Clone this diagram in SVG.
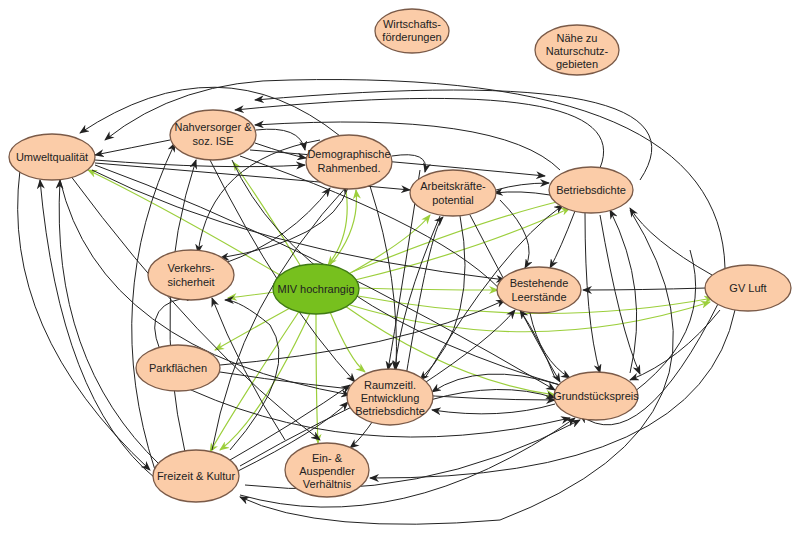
<svg xmlns="http://www.w3.org/2000/svg" width="800" height="538" viewBox="0 0 800 538">
<defs>
<marker id="ab" markerWidth="10" markerHeight="8" refX="9" refY="4" orient="auto" markerUnits="userSpaceOnUse"><path d="M0,0 L10,4 L0,8 L3,4 Z" fill="#222"/></marker>
<marker id="ag" markerWidth="10" markerHeight="8" refX="9" refY="4" orient="auto" markerUnits="userSpaceOnUse"><path d="M0,0 L10,4 L0,8 L3,4 Z" fill="#9ccf3c"/></marker>
</defs>
<style>
.n ellipse{fill:#fbcca8;stroke:#7a5a48;stroke-width:1.3}
.n text{font-family:"Liberation Sans",Arial,sans-serif;font-size:11px;fill:#222;text-anchor:middle}
#miv ellipse{fill:#77c01e;stroke:#3f7a14}
.b path{fill:none;stroke:#222;stroke-width:1;marker-end:url(#ab)}
.g path{fill:none;stroke:#9ccf3c;stroke-width:1.2;marker-end:url(#ag)}
</style>
<rect width="800" height="538" fill="#fff"/>
<g id="connectors">
<g class="g">
<path d="M285,278 Q170,210 88,170"/>
<path d="M300,265 Q260,200 233,162"/>
<path d="M330,265 Q360,230 356,190"/>
<path d="M346,190 Q352,235 328,265"/>
<path d="M345,276 Q410,240 430,215"/>
<path d="M352,272 Q480,220 565,200"/>
<path d="M355,280 Q480,250 570,208"/>
<path d="M358,288 Q430,290 498,290"/>
<path d="M358,296 Q540,330 713,298"/>
<path d="M350,305 Q530,360 710,302"/>
<path d="M345,306 Q450,380 555,395"/>
<path d="M330,312 Q350,360 365,372"/>
<path d="M316,314 Q316,400 318,443"/>
<path d="M300,310 Q240,400 210,452"/>
<path d="M310,313 Q260,420 220,450"/>
<path d="M290,308 Q250,330 215,350"/>
<path d="M275,292 Q245,296 228,298"/>
</g>
<g class="b">
<path d="M340,136 Q220,40 80,133"/>
<path d="M170,140 Q130,148 95,155"/>
<path d="M95,160 Q220,170 305,165"/>
<path d="M95,163 Q300,180 410,190"/>
<path d="M95,165 Q300,240 555,390"/>
<path d="M92,170 Q250,250 505,280"/>
<path d="M255,143 Q290,155 306,158"/>
<path d="M256,130 Q300,125 305,150"/>
<path d="M600,168 Q640,70 235,110"/>
<path d="M560,170 Q500,110 255,125"/>
<path d="M640,180 Q720,60 255,100"/>
<path d="M392,156 Q430,150 425,172"/>
<path d="M250,150 Q380,160 545,176"/>
<path d="M496,190 Q520,183 549,183"/>
<path d="M550,195 Q520,190 494,193"/>
<path d="M500,200 Q540,240 525,268"/>
<path d="M575,211 Q560,250 550,268"/>
<path d="M585,213 Q585,320 600,373"/>
<path d="M630,210 Q760,420 500,520 Q320,535 240,497"/>
<path d="M600,215 Q620,330 640,374"/>
<path d="M630,373 Q650,290 610,210"/>
<path d="M706,288 Q640,290 583,290"/>
<path d="M712,275 Q650,240 630,208"/>
<path d="M720,310 Q680,360 630,380"/>
<path d="M735,310 Q700,480 370,478"/>
<path d="M725,268 Q720,70 290,80 Q180,80 105,140"/>
<path d="M555,378 Q540,340 520,310"/>
<path d="M530,313 Q540,360 570,378"/>
<path d="M348,188 Q330,240 220,258"/>
<path d="M225,263 Q290,240 330,188"/>
<path d="M210,160 Q280,300 355,382"/>
<path d="M232,160 Q300,310 570,388"/>
<path d="M240,156 Q450,230 505,295"/>
<path d="M320,140 Q210,160 198,253"/>
<path d="M420,170 Q400,300 388,370"/>
<path d="M370,186 Q400,280 396,369"/>
<path d="M440,216 Q400,310 395,370"/>
<path d="M460,216 Q480,320 420,380"/>
<path d="M470,215 Q530,330 560,382"/>
<path d="M425,378 Q500,250 563,205"/>
<path d="M420,386 Q490,340 515,310"/>
<path d="M430,400 Q500,380 555,398"/>
<path d="M555,404 Q500,420 432,410"/>
<path d="M560,385 Q480,360 432,392"/>
<path d="M375,418 Q360,440 350,448"/>
<path d="M230,460 Q300,420 350,385"/>
<path d="M236,472 Q320,430 348,402"/>
<path d="M240,466 Q320,420 405,382 Q430,230 443,217"/>
<path d="M212,450 Q240,300 348,185"/>
<path d="M185,452 Q150,300 196,160"/>
<path d="M155,470 Q100,300 175,143"/>
<path d="M155,478 Q60,400 40,180"/>
<path d="M160,465 Q50,360 60,180"/>
<path d="M20,170 Q0,330 150,470"/>
<path d="M60,180 Q100,350 350,395"/>
<path d="M70,175 Q200,350 320,440"/>
<path d="M210,366 Q400,350 505,300"/>
<path d="M220,372 Q400,400 555,400"/>
<path d="M160,350 Q140,300 195,297"/>
<path d="M285,440 Q240,370 212,298"/>
<path d="M230,450 Q300,370 270,325 Q240,300 225,300"/>
<path d="M240,495 Q400,540 575,418"/>
<path d="M245,485 Q420,505 580,420"/>
<path d="M170,380 Q350,470 570,418"/>
<path d="M720,300 Q640,460 580,415"/>
<path d="M690,250 Q720,350 590,420"/>
</g>
</g>
<g id="n1" class="n"><ellipse cx="412" cy="31" rx="37" ry="22"/><text x="412" y="28">Wirtschafts-</text><text x="412" y="41">förderungen</text></g>
<g id="n2" class="n"><ellipse cx="577" cy="50" rx="42" ry="25"/><text x="577" y="42">Nähe zu</text><text x="577" y="55">Naturschutz-</text><text x="577" y="68">gebieten</text></g>
<g id="n3" class="n"><ellipse cx="52" cy="157" rx="43" ry="23"/><text x="52" y="161">Umweltqualität</text></g>
<g id="n4" class="n"><ellipse cx="213" cy="135" rx="43" ry="25"/><text x="213" y="131">Nahversorger &amp;</text><text x="213" y="145">soz. ISE</text></g>
<g id="n5" class="n"><ellipse cx="349" cy="162" rx="43" ry="27"/><text x="349" y="158">Demographische</text><text x="349" y="172">Rahmenbed.</text></g>
<g id="n6" class="n"><ellipse cx="453" cy="193" rx="43" ry="23"/><text x="453" y="190">Arbeitskräfte-</text><text x="453" y="204">potential</text></g>
<g id="n7" class="n"><ellipse cx="591" cy="190" rx="42" ry="23"/><text x="591" y="194">Betriebsdichte</text></g>
<g id="n8" class="n"><ellipse cx="191" cy="275" rx="43" ry="25"/><text x="191" y="272">Verkehrs-</text><text x="191" y="286">sicherheit</text></g>
<g id="miv" class="n"><ellipse cx="316" cy="289" rx="43" ry="25"/><text x="316" y="293">MIV hochrangig</text></g>
<g id="n9" class="n"><ellipse cx="539" cy="290" rx="42" ry="23"/><text x="539" y="287">Bestehende</text><text x="539" y="301">Leerstände</text></g>
<g id="n10" class="n"><ellipse cx="748" cy="288" rx="43" ry="23"/><text x="748" y="292">GV Luft</text></g>
<g id="n11" class="n"><ellipse cx="178" cy="368" rx="42" ry="23"/><text x="178" y="372">Parkflächen</text></g>
<g id="n12" class="n"><ellipse cx="390" cy="397" rx="43" ry="28"/><text x="390" y="389">Raumzeitl.</text><text x="390" y="402">Entwicklung</text><text x="390" y="415">Betriebsdichte</text></g>
<g id="n13" class="n"><ellipse cx="596" cy="396" rx="42" ry="24"/><text x="596" y="400">Grundstückspreis</text></g>
<g id="n14" class="n"><ellipse cx="196" cy="476" rx="43" ry="26"/><text x="196" y="480">Freizeit &amp; Kultur</text></g>
<g id="n15" class="n"><ellipse cx="327" cy="470" rx="42" ry="27"/><text x="327" y="462">Ein- &amp;</text><text x="327" y="475">Auspendler</text><text x="327" y="488">Verhältnis</text></g>
</svg>
